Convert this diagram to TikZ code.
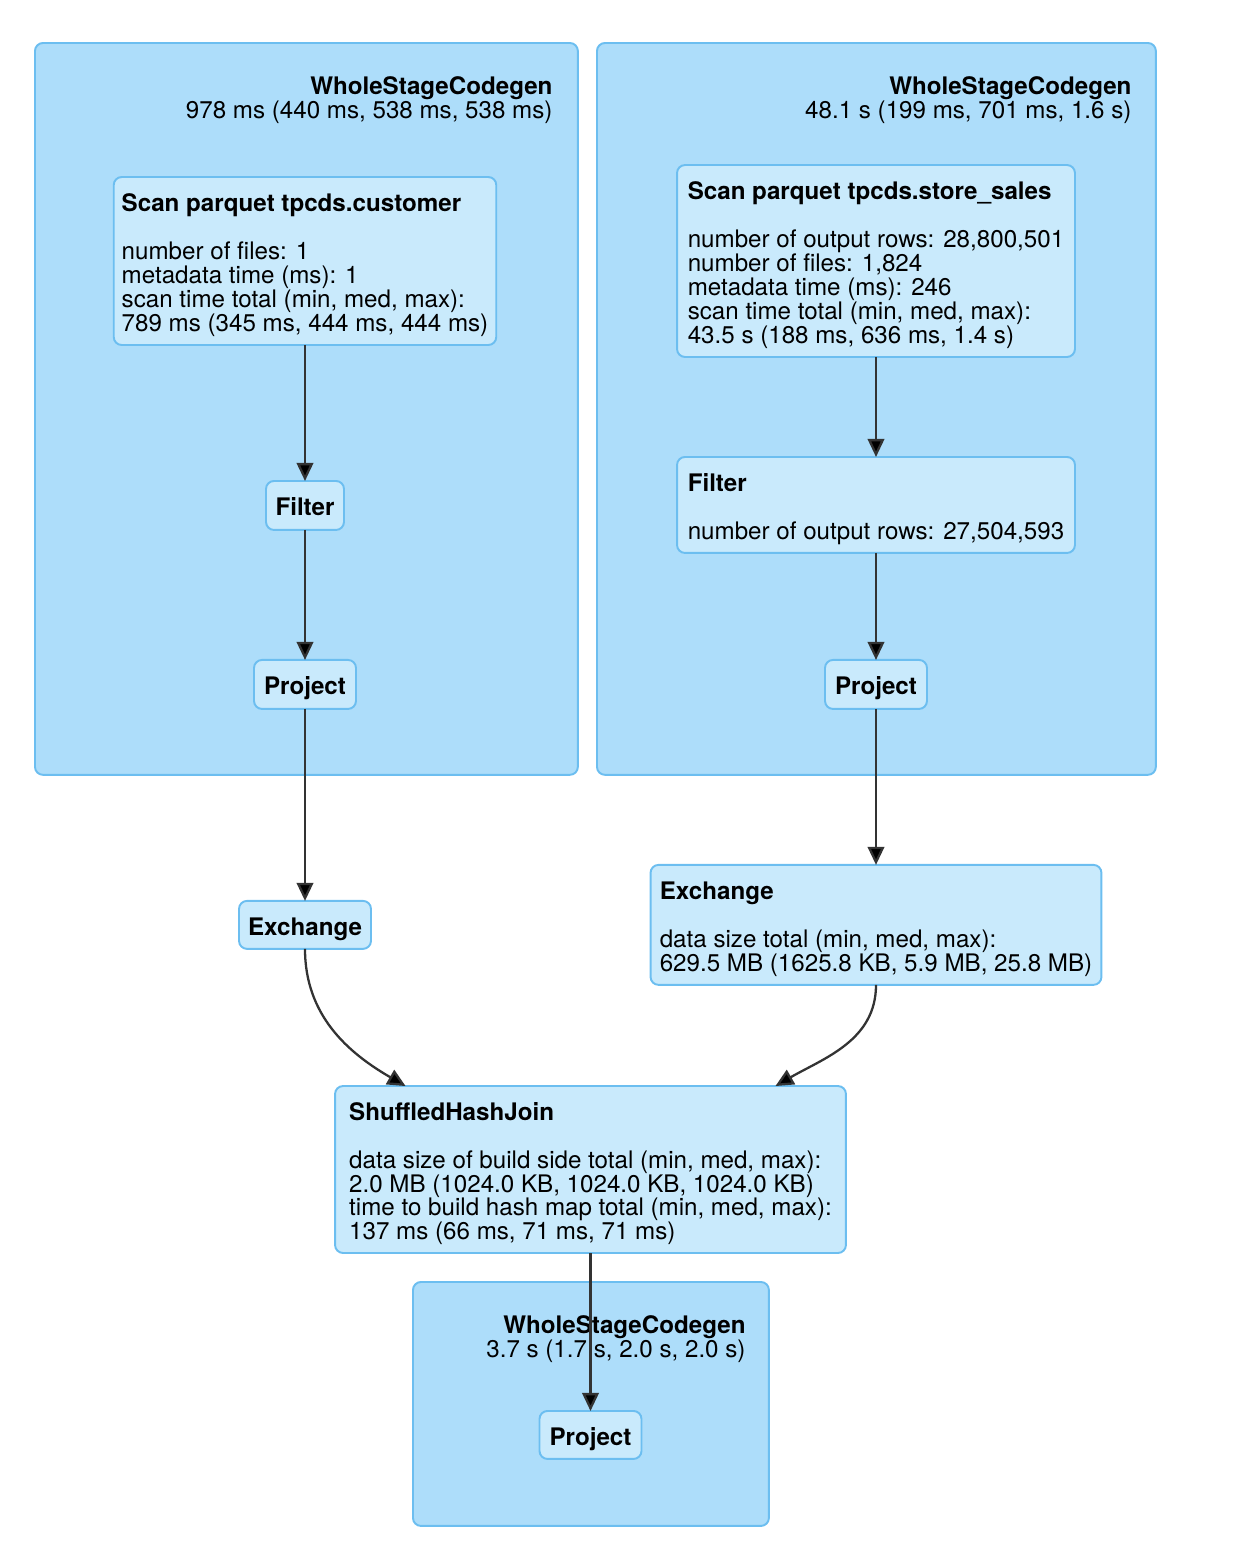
\documentclass[tikz,border=0pt]{standalone}
\usepackage{fontspec}
\setmainfont{TeX Gyre Heros}
\usetikzlibrary{positioning, arrows.meta}
\definecolor{stagefill}{RGB}{173,221,250}
\definecolor{opfill}{RGB}{201,234,252}
\definecolor{rimblue}{RGB}{108,190,240}
\definecolor{flowgray}{RGB}{51,51,51}
\newcommand{\oplead}{\rule{0pt}{15pt}}
\tikzset{
  >={Triangle[length=0.36cm, width=0.33cm]},
  every node/.style={font=\fontsize{13.75}{13.6}\selectfont},
  stage/.style={draw=rimblue, fill=stagefill, line width=1.1pt, rounded corners=0.16cm, anchor=north west, inner sep=0pt},
  op/.style={draw=rimblue, fill=opfill, line width=1.1pt, rounded corners=0.16cm, inner xsep=0.16cm, inner ysep=0.1cm, outer sep=0pt},
  wide/.style={op, align=left, minimum width=#1},
  small/.style={op, minimum width=#1, minimum height=0.98cm, text height=11.6pt, text depth=0pt, font=\fontsize{13.75}{13.6}\selectfont\bfseries},
  stagelabel/.style={anchor=north east, align=right, inner sep=0pt},
  flow/.style={->, draw=flowgray, line width=1.3pt},
}

\begin{document}
\begin{tikzpicture}[x=0.02cm, y=-0.02cm]
  \useasboundingbox (0,0) rectangle (1240,1566);

  % stages
  \node[stage, minimum width=10.86cm, minimum height=14.64cm] (wscC) at (34,42) {};
  \node[stage, minimum width=11.18cm, minimum height=14.64cm] (wscS) at (596,42) {};
  \node[stage, minimum width=7.12cm, minimum height=4.88cm] (wscB) at (412,1281) {};
  \node[stagelabel] (wscClabel) at ([xshift=-0.52cm, yshift=-0.68cm]wscC.north east)
    {\textbf{WholeStageCodegen}\\978 ms (440 ms, 538 ms, 538 ms)};
  \node[stagelabel] (wscSlabel) at ([xshift=-0.5cm, yshift=-0.68cm]wscS.north east)
    {\textbf{WholeStageCodegen}\\48.1 s (199 ms, 701 ms, 1.6 s)};
  \node[stagelabel] (wscBlabel) at ([xshift=-0.48cm, yshift=-0.68cm]wscB.north east)
    {\textbf{WholeStageCodegen}\\3.7 s (1.7 s, 2.0 s, 2.0 s)};

  % customer side
  \node[wide=7.64cm, minimum height=3.36cm] (scanC) at (305,261)
    {\oplead\textbf{Scan parquet tpcds.customer}\\[13.6pt]
     number of files: 1\\
     metadata time (ms): 1\\
     scan time total (min, med, max):\\
     789 ms (345 ms, 444 ms, 444 ms)};
  \node[small=1.56cm, below=2.72cm of scanC] (filterC) {Filter};
  \node[small=2.04cm, below=2.6cm of filterC] (projC) {Project};
  \node[small=2.64cm, minimum height=0.96cm, below=3.84cm of projC] (exchC) {Exchange};

  % store_sales side
  \node[wide=7.96cm, minimum height=3.84cm] (scanS) at (876,261)
    {\oplead\textbf{Scan parquet tpcds.store\_sales}\\[13.6pt]
     number of output rows: 28,800,501\\
     number of files: 1,824\\
     metadata time (ms): 246\\
     scan time total (min, med, max):\\
     43.5 s (188 ms, 636 ms, 1.4 s)};
  \node[wide=7.96cm, minimum height=1.92cm, below=2cm of scanS] (filterS)
    {\oplead\textbf{Filter}\\[13.6pt]
     number of output rows: 27,504,593};
  \node[small=2.04cm, below=2.14cm of filterS] (projS) {Project};
  \node[wide=9.02cm, minimum height=2.4cm, below=3.12cm of projS] (exchS)
    {\oplead\textbf{Exchange}\\[13.6pt]
     data size total (min, med, max):\\
     629.5 MB (1625.8 KB, 5.9 MB, 25.8 MB)};

  % join
  \node[wide=10.22cm, minimum height=3.34cm] (shj) at (590.5,1169.5)
    {\oplead\textbf{ShuffledHashJoin}\\[13.6pt]
     data size of build side total (min, med, max):\\
     2.0 MB (1024.0 KB, 1024.0 KB, 1024.0 KB)\\
     time to build hash map total (min, med, max):\\
     137 ms (66 ms, 71 ms, 71 ms)};
  \node[small=2.04cm, minimum height=0.96cm, below=3.16cm of shj] (projB) {Project};

  % edges
  \draw[flow] (scanC) edge (filterC)
    (filterC) edge (projC)
    (projC) edge (exchC)
    (exchC) edge[out=-90, in=150] ([xshift=-3.7cm]shj.north)
    (scanS) edge (filterS)
    (filterS) edge (projS)
    (projS) edge (exchS)
    (exchS) edge[out=-90, in=30] ([xshift=3.7cm]shj.north)
    (shj) edge (projB);

\end{tikzpicture}
\end{document}
